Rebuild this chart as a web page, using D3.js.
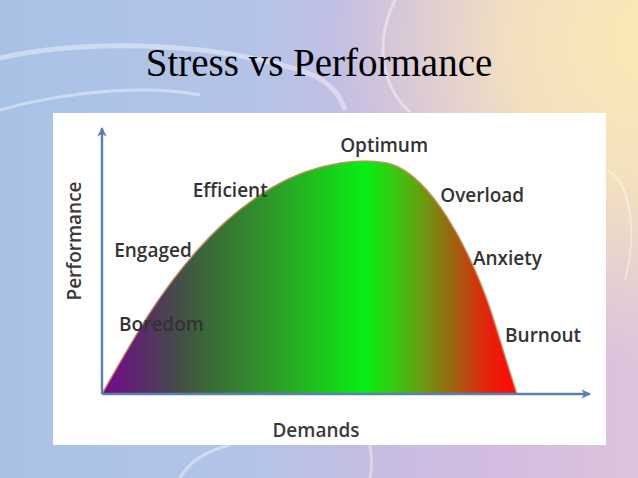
<!DOCTYPE html>
<html>
<head>
<meta charset="utf-8">
<script src="https://cdn.jsdelivr.net/npm/d3@7"></script>
<style>
  html, body { margin: 0; padding: 0; overflow: hidden; }
  svg { display: block; }
</style>
</head>
<body>
<svg id="chart" width="638" height="478"></svg>
<script>
// Curve data (demand on x, performance on y, both 0..100)
const demand      = [0, 5, 9.8, 19.5, 35, 48.8, 53.9, 58.4, 65.2, 70.7, 74.8, 78.9, 83, 85];
const performance = [0, 16, 30.5, 54, 77.8, 86.8, 87.6, 86.8, 79.3, 66.5, 53, 35.3, 11.7, 0];

// Stage labels, placed in data units
const stageNames = ['Boredom', 'Engaged', 'Efficient', 'Optimum', 'Overload', 'Anxiety', 'Burnout'];
const stageX     = [3.5, 2.5, 18.6, 48.8, 69.3, 76, 82.6];
const stageY     = [23.7, 51.5, 74.1, 91, 72.2, 48.5, 19.5];

// Fill gradient along demand
const gradDemand = [0, 8, 15, 22, 35, 48, 54, 60, 66, 72, 78, 84];
const gradColors = ['#78068e', '#5a2a6a', '#474a4a', '#3a6a38', '#2e9a28', '#16d418', '#08ee14',
                    '#38c810', '#6c9810', '#9c6410', '#dc2a0c', '#ff0808'];

const svg = d3.select('#chart');
const W = 638, H = 478;
const defs = svg.append('defs');

// Slide background
const bg = defs.append('linearGradient').attr('id', 'bg').attr('x1', 0).attr('y1', 0).attr('x2', 1).attr('y2', 0);
[[0, '#a8c2e6'], [0.4, '#b4c4e8'], [0.6, '#c8bce2'], [0.8, '#d4bde0'], [1, '#dcc4dc']]
  .forEach(([o, c]) => bg.append('stop').attr('offset', o).attr('stop-color', c));
const sun = defs.append('radialGradient').attr('id', 'sun')
  .attr('gradientUnits', 'userSpaceOnUse').attr('cx', 660).attr('cy', 40).attr('r', 330);
sun.append('stop').attr('offset', 0).attr('stop-color', '#fbeab4').attr('stop-opacity', 1);
sun.append('stop').attr('offset', 0.45).attr('stop-color', '#f6e4bc').attr('stop-opacity', 0.9);
sun.append('stop').attr('offset', 1).attr('stop-color', '#f0dcc8').attr('stop-opacity', 0);

svg.append('rect').attr('width', W).attr('height', H).attr('fill', 'url(#bg)');
svg.append('rect').attr('width', W).attr('height', H).attr('fill', 'url(#sun)');

// faint swirl lines
const swirl = svg.append('g').attr('fill', 'none').attr('stroke', '#ffffff').attr('stroke-opacity', 0.4);
swirl.append('path').attr('d', 'M0,58 C80,40 200,40 300,70 C330,80 340,95 345,110').attr('stroke-width', 5);
swirl.append('path').attr('d', 'M0,110 C70,90 150,85 200,95').attr('stroke-width', 3);
swirl.append('path').attr('d', 'M395,0 C375,40 380,85 410,112').attr('stroke-width', 3);
swirl.append('path').attr('d', 'M180,478 C190,460 210,450 230,445').attr('stroke-width', 3);
swirl.append('path').attr('d', 'M370,445 C372,460 372,470 370,478').attr('stroke-width', 3);
swirl.append('path').attr('d', 'M606,170 C630,180 638,230 625,280').attr('stroke-width', 2);

// Title
svg.append('text')
  .attr('x', 319).attr('y', 76)
  .attr('text-anchor', 'middle')
  .attr('font-family', '"Liberation Serif", "Times New Roman", serif')
  .attr('font-size', 39)
  .attr('fill', '#000')
  .text('Stress vs Performance');

// White panel
svg.append('rect').attr('x', 53).attr('y', 113).attr('width', 553).attr('height', 332).attr('fill', '#ffffff');

const x = d3.scaleLinear().domain([0, 100]).range([102, 590]);
const y = d3.scaleLinear().domain([0, 100]).range([394, 128]);

const fill = defs.append('linearGradient').attr('id', 'curveFill')
  .attr('gradientUnits', 'userSpaceOnUse')
  .attr('x1', x(0)).attr('x2', x(85)).attr('y1', 0).attr('y2', 0);
gradDemand.forEach((d, i) => {
  fill.append('stop').attr('offset', d / 85).attr('stop-color', gradColors[i]);
});

const pts = demand.map((d, i) => [d, performance[i]]);

const area = d3.area()
  .x(d => x(d[0])).y0(y(0)).y1(d => y(d[1]))
  .curve(d3.curveMonotoneX);
const line = d3.line()
  .x(d => x(d[0])).y(d => y(d[1]))
  .curve(d3.curveMonotoneX);

svg.append('path').datum(pts).attr('d', area).attr('fill', 'url(#curveFill)');
svg.append('path').datum(pts).attr('d', line)
  .attr('fill', 'none').attr('stroke', '#c58a5a').attr('stroke-width', 1.6).attr('stroke-opacity', 0.8);

// Axes with arrowheads
const axisColor = '#5b7fb2';
defs.append('marker').attr('id', 'arrow')
  .attr('viewBox', '0 0 10 10').attr('refX', 9).attr('refY', 5)
  .attr('markerWidth', 4).attr('markerHeight', 4).attr('orient', 'auto')
  .append('path').attr('d', 'M0,0 L10,5 L0,10 L3,5 Z').attr('fill', axisColor);

const axes = svg.append('g').attr('stroke', axisColor).attr('stroke-width', 2.4).attr('fill', 'none');
axes.append('line').attr('x1', x(0)).attr('y1', y(0)).attr('x2', x(0)).attr('y2', y(100))
  .attr('marker-end', 'url(#arrow)');
axes.append('line').attr('x1', x(0)).attr('y1', y(0)).attr('x2', x(100)).attr('y2', y(0))
  .attr('marker-end', 'url(#arrow)');

// Stage labels
const labelFont = '"Open Sans", "Noto Sans", sans-serif';
svg.append('g').selectAll('text')
  .data(stageNames)
  .join('text')
  .attr('x', (d, i) => x(stageX[i]))
  .attr('y', (d, i) => y(stageY[i]))
  .attr('font-family', labelFont)
  .attr('font-size', 19)
  .attr('font-weight', 600)
  .attr('fill', '#333')
  .text(d => d);

// Axis titles
svg.append('text')
  .attr('x', 316).attr('y', 437)
  .attr('text-anchor', 'middle')
  .attr('font-family', labelFont).attr('font-size', 19).attr('font-weight', 600).attr('fill', '#3a3a3a')
  .text('Demands');
svg.append('text')
  .attr('transform', 'translate(81,241) rotate(-90)')
  .attr('text-anchor', 'middle')
  .attr('font-family', labelFont).attr('font-size', 19).attr('font-weight', 600).attr('fill', '#3a3a3a')
  .text('Performance');
</script>
</body>
</html>
